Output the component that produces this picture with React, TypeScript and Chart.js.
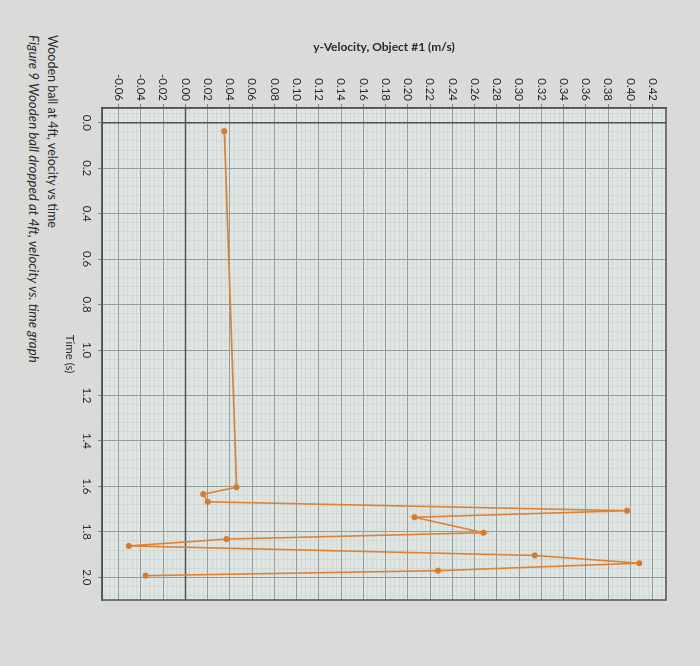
import { useEffect, useRef } from "react";
import { Chart, registerables } from "chart.js";

Chart.register(...registerables);

// samples: time (s) and y-velocity (m/s)
const times = [0.037, 1.604, 1.634, 1.668, 1.707, 1.736, 1.804, 1.832, 1.862, 1.904, 1.938, 1.971, 1.993];
const velocities = [0.035, 0.046, 0.016, 0.020, 0.397, 0.206, 0.268, 0.037, -0.051, 0.314, 0.408, 0.227, -0.036];

// labelled ticks
const timeTicks = [0.0, 0.2, 0.4, 0.6, 0.8, 1.0, 1.2, 1.4, 1.6, 1.8, 2.0];
const velocityTicks = [
  -0.06, -0.04, -0.02, 0.0, 0.02, 0.04, 0.06, 0.08, 0.1, 0.12, 0.14, 0.16, 0.18,
  0.2, 0.22, 0.24, 0.26, 0.28, 0.3, 0.32, 0.34, 0.36, 0.38, 0.4, 0.42,
];

const TIME_MIN = -0.065;
const TIME_MAX = 2.1;
const VEL_MIN = -0.075;
const VEL_MAX = 0.432;

const FONT = "Lato, 'Open Sans', sans-serif";
const TEXT = "#2b2b2b";
const FRAME = "#4d525a";

// the 4 faint lines between each pair of labelled ticks
function minorLines(major: number[], min: number, max: number) {
  const step = (major[1] - major[0]) / 5;
  const out: number[] = [];
  const start = Math.ceil((min - major[0]) / step);
  const end = Math.floor((max - major[0]) / step);
  for (let i = start; i <= end; i++) {
    if (i % 5 === 0) continue;
    out.push(Math.round((major[0] + i * step) * 1e6) / 1e6);
  }
  return out;
}

// scale that only paints the faint grid, under everything else
function minorScale(axis: "x" | "y", lines: number[], min: number, max: number) {
  return {
    type: "linear",
    axis,
    position: axis === "x" ? "bottom" : "left",
    min,
    max,
    z: -1,
    afterBuildTicks: (s: any) => {
      s.ticks = lines.map((v) => ({ value: v }));
    },
    afterFit: (s: any) => {
      if (axis === "x") s.height = 0;
      else s.width = 0;
    },
    ticks: { display: false },
    grid: { color: "#d1d8d6", lineWidth: 1, drawTicks: false },
    border: { display: false },
  };
}

const plotFrame = {
  id: "plotFrame",
  beforeDraw(chart: any) {
    const { ctx, chartArea: a } = chart;
    ctx.save();
    ctx.fillStyle = "#dee5e2";
    ctx.fillRect(a.left, a.top, a.width, a.height);
    ctx.restore();
  },
  beforeDatasetsDraw(chart: any) {
    const { ctx, chartArea: a, scales } = chart;
    const x0 = scales.x.getPixelForValue(0);
    const y0 = scales.y.getPixelForValue(0);
    ctx.save();
    ctx.strokeStyle = FRAME;
    ctx.lineWidth = 1.5;
    ctx.beginPath();
    ctx.moveTo(x0, a.top);
    ctx.lineTo(x0, a.bottom);
    ctx.moveTo(a.left, y0);
    ctx.lineTo(a.right, y0);
    ctx.stroke();
    ctx.strokeRect(a.left, a.top, a.width, a.height);
    ctx.restore();
  },
};

function VelocityChart() {
  const canvasRef = useRef<HTMLCanvasElement | null>(null);

  useEffect(() => {
    const ctx = canvasRef.current?.getContext("2d");
    if (!ctx) return;

    const chart = new Chart(ctx, {
      type: "scatter",
      data: {
        datasets: [
          {
            data: times.map((t, i) => ({ x: t, y: velocities[i] })),
            xAxisID: "x",
            yAxisID: "y",
            showLine: true,
            borderColor: "rgb(221, 130, 52)",
            backgroundColor: "rgb(214, 122, 44)",
            borderWidth: 1.6,
            pointRadius: 3,
            pointBorderWidth: 0,
            tension: 0,
          },
        ],
      },
      options: {
        animation: false,
        responsive: true,
        maintainAspectRatio: false,
        layout: { padding: { top: 34, right: 40, left: 0, bottom: 0 } },
        plugins: { legend: { display: false }, tooltip: { enabled: false } },
        scales: {
          xMinor: minorScale("x", minorLines(timeTicks, TIME_MIN, TIME_MAX), TIME_MIN, TIME_MAX),
          yMinor: minorScale("y", minorLines(velocityTicks, VEL_MIN, VEL_MAX), VEL_MIN, VEL_MAX),
          x: {
            type: "linear",
            position: "bottom",
            min: TIME_MIN,
            max: TIME_MAX,
            afterBuildTicks: (s: any) => {
              s.ticks = timeTicks.map((v) => ({ value: v }));
            },
            afterFit: (s: any) => {
              s.height = 42;
            },
            ticks: {
              autoSkip: false,
              maxRotation: 0,
              minRotation: 0,
              padding: 4,
              color: TEXT,
              font: { family: FONT, size: 11.5 },
              callback: (v: any) => Number(v).toFixed(1),
            },
            grid: { color: "#949d9c", lineWidth: 1, tickColor: "#7d8584", tickLength: 4 },
            border: { display: true, color: FRAME, width: 1.5 },
            title: {
              display: true,
              text: "Time (s)",
              color: TEXT,
              font: { family: FONT, size: 11.5 },
              padding: { top: 0, bottom: 3 },
            },
          },
          y: {
            type: "linear",
            position: "left",
            min: VEL_MIN,
            max: VEL_MAX,
            afterBuildTicks: (s: any) => {
              s.ticks = velocityTicks.map((v) => ({ value: v }));
            },
            afterFit: (s: any) => {
              s.width = 108;
            },
            ticks: {
              autoSkip: false,
              padding: 3,
              color: TEXT,
              font: { family: FONT, size: 11.5 },
              callback: (v: any) => (Math.round(Number(v) * 100) / 100).toFixed(2),
            },
            grid: { color: "#949d9c", lineWidth: 1, tickColor: "#7d8584", tickLength: 4 },
            border: { display: true, color: FRAME, width: 1.5 },
            title: {
              display: true,
              text: "y-Velocity, Object #1 (m/s)",
              color: TEXT,
              font: { family: FONT, size: 12, weight: "bold" },
              padding: { top: 40, bottom: 0 },
            },
          },
        },
      },
      plugins: [plotFrame],
    } as any);

    return () => chart.destroy();
  }, []);

  return (
    <div style={{ position: "absolute", left: 0, top: 0, width: 640, height: 640 }}>
      <canvas ref={canvasRef} style={{ display: "block" }} />
    </div>
  );
}

export default function App() {
  return (
    <div
      style={{
        position: "fixed",
        left: 0,
        top: 0,
        width: 700,
        height: 666,
        background: "#dadbd8",
        overflow: "hidden",
      }}
    >
      {/* the photographed page is turned a quarter turn clockwise */}
      <div
        style={{
          position: "absolute",
          left: 0,
          top: 0,
          width: 666,
          height: 700,
          transformOrigin: "0 0",
          transform: "translate(700px, 0) rotate(90deg)",
        }}
      >
        <VelocityChart />
        <div
          style={{
            position: "absolute",
            left: 35,
            top: 640,
            font: `12.5px ${FONT}`,
            color: TEXT,
            whiteSpace: "nowrap",
          }}
        >
          Wooden ball at 4ft, velocity vs time
        </div>
        <div
          style={{
            position: "absolute",
            left: 35,
            top: 658,
            font: `italic 13.3px ${FONT}`,
            color: TEXT,
            whiteSpace: "nowrap",
          }}
        >
          Figure 9 Wooden ball dropped at 4ft, velocity vs. time graph
        </div>
      </div>
    </div>
  );
}
